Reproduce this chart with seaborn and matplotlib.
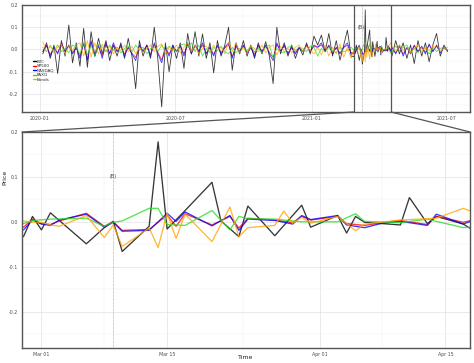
import matplotlib

matplotlib.use("Agg")
import matplotlib.dates as mdates
import matplotlib.pyplot as plt
import numpy as np
import pandas as pd
import seaborn as sns
from matplotlib.patches import ConnectionPatch
from matplotlib.ticker import FixedLocator, FormatStrFormatter

nan = np.nan

series_names = ["BTC", "SP500", "NASDAQ", "PAXG", "Bonds"]
series_colors = ["#000000", "#FF0000", "#0000FF", "#22DD22", "#FFA500"]

# sampled every 5 days from 2020-01-05 up to 2021-02-23
early_start = "2020-01-05"
btc_early = [-0.02, 0.03, -0.04, 0.02, -0.108, 0.04, -0.03, 0.11, -0.06, 0.03,
             -0.075, 0.095, -0.08, 0.08, -0.03, 0.05, -0.02, 0.04, -0.05, 0.02,
             -0.03, 0.03, -0.04, 0.05, -0.03, -0.176, 0.04, -0.03, 0.02, -0.04,
             0.10, -0.05, -0.258, 0.03, -0.10, 0.02, -0.04, 0.03, -0.085, 0.072,
             -0.02, 0.08, -0.03, 0.07, -0.04, 0.03, -0.105, 0.04, -0.03, 0.02,
             0.10, -0.093, 0.03, -0.02, 0.04, -0.03, 0.02, -0.04, 0.03, -0.02,
             0.035, -0.03, -0.153, 0.10, -0.02, 0.03, -0.03, 0.02, -0.04, 0.01,
             -0.025, 0.03, -0.02, 0.06, 0.02, 0.065, -0.01, 0.072, -0.03, 0.04,
             -0.048, 0.02, 0.087, -0.03]
sp500_early = [-0.008, 0.015, -0.022, 0.006, -0.014, 0.02, -0.01, 0.016, -0.013, 0.007,
               -0.03, 0.024, -0.042, 0.031, -0.027, 0.013, -0.028, 0.022, -0.016, 0.019,
               -0.007, 0.013, -0.021, 0.009, -0.016, -0.036, 0.014, -0.006, 0.016, -0.022,
               0.021, -0.014, -0.047, 0.009, -0.021, 0.014, -0.009, 0.016, -0.019, 0.021,
               -0.013, 0.016, -0.007, 0.019, -0.016, 0.009, -0.022, 0.014, -0.013, 0.007,
               0.021, -0.031, 0.013, -0.009, 0.016, -0.014, 0.009, -0.021, 0.014, -0.007,
               0.016, -0.013, -0.036, 0.022, -0.006, 0.014, -0.016, 0.007, -0.014, 0.009,
               -0.009, 0.016, -0.007, 0.014, 0.009, 0.021, -0.006, 0.016, -0.014, 0.007,
               -0.016, 0.009, 0.019, -0.014]
nasdaq_early = [-0.01, 0.02, -0.03, 0.01, -0.02, 0.03, -0.01, 0.02, -0.02, 0.01,
                -0.04, 0.03, -0.05, 0.04, -0.03, 0.02, -0.04, 0.03, -0.02, 0.03,
                -0.01, 0.02, -0.03, 0.01, -0.02, -0.05, 0.02, -0.01, 0.02, -0.03,
                0.03, -0.02, -0.06, 0.01, -0.03, 0.02, -0.01, 0.02, -0.03, 0.03,
                -0.02, 0.02, -0.01, 0.03, -0.02, 0.01, -0.03, 0.02, -0.02, 0.01,
                0.03, -0.04, 0.02, -0.01, 0.02, -0.02, 0.01, -0.03, 0.02, -0.01,
                0.02, -0.02, -0.05, 0.03, -0.01, 0.02, -0.02, 0.01, -0.02, 0.01,
                -0.01, 0.02, -0.01, 0.02, 0.01, 0.03, -0.01, 0.02, -0.02, 0.01,
                -0.02, 0.01, 0.03, -0.02]
paxg_early = [0.01, -0.01, 0.015, -0.005, 0.02, -0.01, 0.005, -0.015, 0.02, 0.01,
              -0.02, 0.03, -0.025, 0.02, -0.03, 0.025, 0.01, -0.01, 0.02, -0.005,
              0.01, -0.015, 0.005, 0.015, -0.01, 0.02, -0.005, 0.01, -0.02, 0.005,
              0.01, -0.01, 0.02, -0.005, 0.015, 0.005, -0.01, 0.02, 0.025, 0.01,
              0.03, -0.01, 0.02, -0.03, 0.005, -0.015, 0.01, -0.005, 0.015, -0.01,
              -0.02, 0.01, -0.015, 0.005, 0.01, -0.005, 0.015, -0.01, 0.005, -0.015,
              0.01, 0.02, -0.04, 0.005, -0.01, -0.015, 0.01, 0.015, -0.005, 0.01,
              0.005, -0.01, 0.015, 0.01, -0.03, 0.005, -0.01, 0.01, -0.005, -0.015,
              0.01, -0.01, -0.005, 0.01]
bonds_early = [0.035, -0.01, 0.02, -0.015, 0.01, 0.025, -0.02, 0.015, -0.005, 0.02,
               0.03, -0.03, 0.04, -0.035, 0.03, -0.02, 0.025, -0.01, 0.015, -0.02,
               0.01, -0.005, 0.02, -0.01, 0.015, -0.02, 0.01, -0.015, 0.005, 0.02,
               -0.01, 0.015, 0.025, -0.02, 0.01, -0.005, 0.02, -0.015, 0.01, 0.03,
               -0.01, 0.02, -0.02, 0.005, 0.015, -0.01, 0.02, -0.005, 0.01, -0.02,
               0.035, -0.01, 0.03, -0.015, 0.01, -0.02, 0.015, 0.005, -0.01, 0.02,
               -0.015, 0.01, 0.02, -0.025, 0.015, -0.01, 0.005, -0.015, 0.01, 0.02,
               -0.01, 0.015, -0.005, -0.02, 0.01, -0.025, 0.02, -0.03, 0.01, -0.02,
               0.025, -0.035, 0.01, -0.04]

# the zoomed window, at the observed dates
zoom_dates = ["2021-02-27", "2021-02-28", "2021-03-01", "2021-03-02", "2021-03-03",
              "2021-03-06", "2021-03-08", "2021-03-09", "2021-03-10", "2021-03-13",
              "2021-03-14", "2021-03-15", "2021-03-16", "2021-03-17", "2021-03-20",
              "2021-03-21", "2021-03-22", "2021-03-23", "2021-03-24", "2021-03-27",
              "2021-03-28", "2021-03-29", "2021-03-30", "2021-03-31", "2021-04-03",
              "2021-04-04", "2021-04-05", "2021-04-06", "2021-04-08", "2021-04-10",
              "2021-04-11", "2021-04-13", "2021-04-14", "2021-04-17"]
btc_zoom = [-0.033, 0.012, -0.018, 0.020, nan, -0.049, -0.013, 0.001, -0.066, -0.010,
            0.178, -0.016, nan, 0.025, 0.088, 0.002, nan, -0.033, 0.035, -0.031,
            nan, nan, 0.037, -0.012, 0.014, -0.025, 0.012, -0.001, nan, -0.007,
            0.054, -0.004, 0.012, -0.005]
sp500_zoom = [-0.012, 0.006, -0.004, -0.006, 0.002, 0.019, -0.010, 0.000, -0.019, -0.017,
              nan, 0.015, -0.010, 0.018, -0.007, nan, 0.012, -0.014, 0.008, 0.004,
              nan, -0.002, 0.012, 0.004, 0.012, -0.004, nan, -0.008, -0.002, 0.003,
              nan, -0.006, 0.012, -0.001]
nasdaq_zoom = [-0.018, 0.004, -0.005, -0.008, 0.004, 0.017, -0.012, -0.001, -0.021, -0.019,
               nan, 0.019, 0.001, 0.022, -0.009, nan, 0.014, -0.019, 0.006, 0.003,
               nan, -0.005, 0.014, 0.005, 0.014, -0.007, nan, -0.013, -0.003, 0.001,
               nan, -0.008, 0.017, -0.005]
paxg_zoom = [-0.004, 0.003, nan, 0.006, nan, 0.008, -0.010, -0.001, 0.002, 0.030,
             0.030, -0.006, nan, -0.008, 0.025, nan, -0.018, 0.012, 0.007, 0.006,
             nan, 0.002, 0.000, 0.000, 0.000, nan, 0.018, 0.001, nan, -0.002,
             nan, 0.006, 0.001, -0.013]
bonds_zoom = [0.002, -0.001, -0.001, -0.007, -0.010, 0.014, -0.035, -0.007, -0.055, -0.014,
              -0.057, 0.019, -0.037, 0.017, -0.044, nan, 0.033, -0.033, -0.013, -0.008,
              0.024, -0.003, 0.010, -0.003, 0.012, nan, -0.020, -0.005, nan, 0.004,
              nan, nan, 0.008, 0.030]

# sampled every 5 days from 2021-04-19 up to 2021-07-03
late_start = "2021-04-19"
btc_late = [-0.03, 0.04, -0.02, 0.03, -0.04, 0.02, -0.063, 0.04, -0.03, 0.03,
            -0.055, 0.02, 0.072, -0.03, 0.02, -0.01]
sp500_late = [0.008, -0.015, 0.012, -0.02, 0.008, -0.012, 0.015, -0.008, 0.01, -0.012,
              0.02, -0.008, 0.015, -0.01, 0.008, -0.004]
nasdaq_late = [0.01, -0.02, 0.02, -0.03, 0.01, -0.02, 0.02, -0.01, 0.015, -0.02,
               0.025, -0.01, 0.02, -0.015, 0.01, -0.005]
paxg_late = [-0.01, 0.015, -0.005, 0.01, 0.02, -0.01, 0.005, -0.015, 0.01, 0.005,
             -0.02, 0.01, -0.01, 0.005, 0.01, -0.005]
bonds_late = [0.015, -0.01, 0.02, -0.005, 0.01, -0.015, 0.005, 0.02, -0.01, 0.01,
              -0.005, 0.015, 0.01, -0.01, 0.005, 0.01]

event_date = "2021-03-09"
event_label = "(B)"
zoom_range = ("2021-02-26 20:00", "2021-04-17 18:00")
top_ticks = ["2020-01-01", "2020-07-01", "2021-01-01", "2021-07-01"]
top_minor = ["2020-04-01", "2020-10-01", "2021-04-01"]
bot_ticks = ["2021-03-01", "2021-03-15", "2021-04-01", "2021-04-15"]
bot_minor = ["2021-03-08 00:00", "2021-03-23 12:00", "2021-04-08 00:00"]

# ---- assemble long table
early_idx = pd.date_range(early_start, periods=len(btc_early), freq="5D")
late_idx = pd.date_range(late_start, periods=len(btc_late), freq="5D")
all_idx = early_idx.append(pd.to_datetime(zoom_dates)).append(late_idx)

parts = [
    ("BTC", btc_early, btc_zoom, btc_late),
    ("SP500", sp500_early, sp500_zoom, sp500_late),
    ("NASDAQ", nasdaq_early, nasdaq_zoom, nasdaq_late),
    ("PAXG", paxg_early, paxg_zoom, paxg_late),
    ("Bonds", bonds_early, bonds_zoom, bonds_late),
]
df = pd.concat(
    [pd.DataFrame({"Time": all_idx, "Price": e + z + l, "Series": n})
     for n, e, z, l in parts]
).dropna()


def _dates(lst):
    return mdates.date2num(pd.to_datetime(lst, format="mixed"))


sns.set_theme(style="whitegrid")
plt.rcParams["font.family"] = ["DejaVu Sans"]
plt.rcParams["axes.unicode_minus"] = False

W, H = 474, 363
fig = plt.figure(figsize=(W / 100, H / 100), dpi=100)
ax_top = fig.add_axes([22 / W, 1 - 112 / H, 448 / W, 107 / H])
ax_bot = fig.add_axes([22 / W, 1 - 348 / H, 448 / W, 216 / H])

for ax, lw in [(ax_top, 0.6), (ax_bot, 0.95)]:
    sns.lineplot(data=df, x="Time", y="Price", hue="Series",
                 hue_order=series_names, palette=series_colors,
                 estimator=None, lw=lw, alpha=0.78, ax=ax,
                 legend=(ax is ax_top))

ev = pd.Timestamp(event_date)
for ax in (ax_top, ax_bot):
    ax.set_facecolor("white")
    ax.set_ylim(-0.281, 0.2)
    ax.yaxis.set_major_locator(FixedLocator([-0.2, -0.1, 0.0, 0.1, 0.2]))
    ax.yaxis.set_minor_locator(FixedLocator([-0.25, -0.15, -0.05, 0.05, 0.15]))
    ax.yaxis.set_major_formatter(FormatStrFormatter("%.1f"))
    ax.grid(which="major", color="#E2E2E2", lw=0.5)
    ax.grid(which="minor", color="#F2F2F2", lw=0.35)
    ax.tick_params(which="major", length=1.8, width=0.5, color="#333333",
                   labelsize=3.4, labelcolor="#4D4D4D", pad=1.2)
    ax.tick_params(which="minor", length=0)
    for sp in ax.spines.values():
        sp.set_color("#555555")
        sp.set_linewidth(1.0)
    ax.set_xlabel("")
    ax.set_ylabel("")
    ax.axvline(ev, color="#999999", ls=(0, (1, 1)), lw=0.5, zorder=1)
    ax.text(ev, 0.1, event_label, ha="center", va="center",
            fontsize=3.5, color="#444444")

# top: full range
ax_top.set_xlim(pd.Timestamp("2019-12-08"), pd.Timestamp("2021-08-02"))
ax_top.xaxis.set_major_locator(FixedLocator(_dates(top_ticks)))
ax_top.xaxis.set_minor_locator(FixedLocator(_dates(top_minor)))
ax_top.xaxis.set_major_formatter(mdates.DateFormatter("%Y-%m"))

handles, labels = ax_top.get_legend_handles_labels()
leg = ax_top.legend(handles, labels, loc="upper left", bbox_to_anchor=(0.025, 0.49),
                    fontsize=3, frameon=False, handlelength=0.6, handletextpad=0.3,
                    labelspacing=0.12, borderpad=0, borderaxespad=0)
for h in leg.get_lines():
    h.set_linewidth(1.0)
    h.set_alpha(1)

# bottom: zoomed window
z0, z1 = pd.Timestamp(zoom_range[0]), pd.Timestamp(zoom_range[1])
ax_bot.set_xlim(z0, z1)
ax_bot.xaxis.set_major_locator(FixedLocator(_dates(bot_ticks)))
ax_bot.xaxis.set_minor_locator(FixedLocator(_dates(bot_minor)))
ax_bot.xaxis.set_major_formatter(mdates.DateFormatter("%b %d"))

fig.text(246 / W, 1 - 357.5 / H, "Time", ha="center", va="center",
         fontsize=4.5, color="#222222")
fig.text(5 / W, 1 - 177 / H, "Price", rotation=90, ha="center", va="center",
         fontsize=4.5, color="#222222")

# zoom indicator and connectors
for zx, bx in [(z0, 0), (z1, 1)]:
    ax_top.axvline(zx, color="#555555", lw=0.9, zorder=5)
    con = ConnectionPatch(xyA=(mdates.date2num(zx), -0.281), coordsA=ax_top.transData,
                          xyB=(bx, 1), coordsB=ax_bot.transAxes,
                          color="#555555", lw=0.9)
    fig.add_artist(con)

fig.savefig("out.png", dpi=100)
